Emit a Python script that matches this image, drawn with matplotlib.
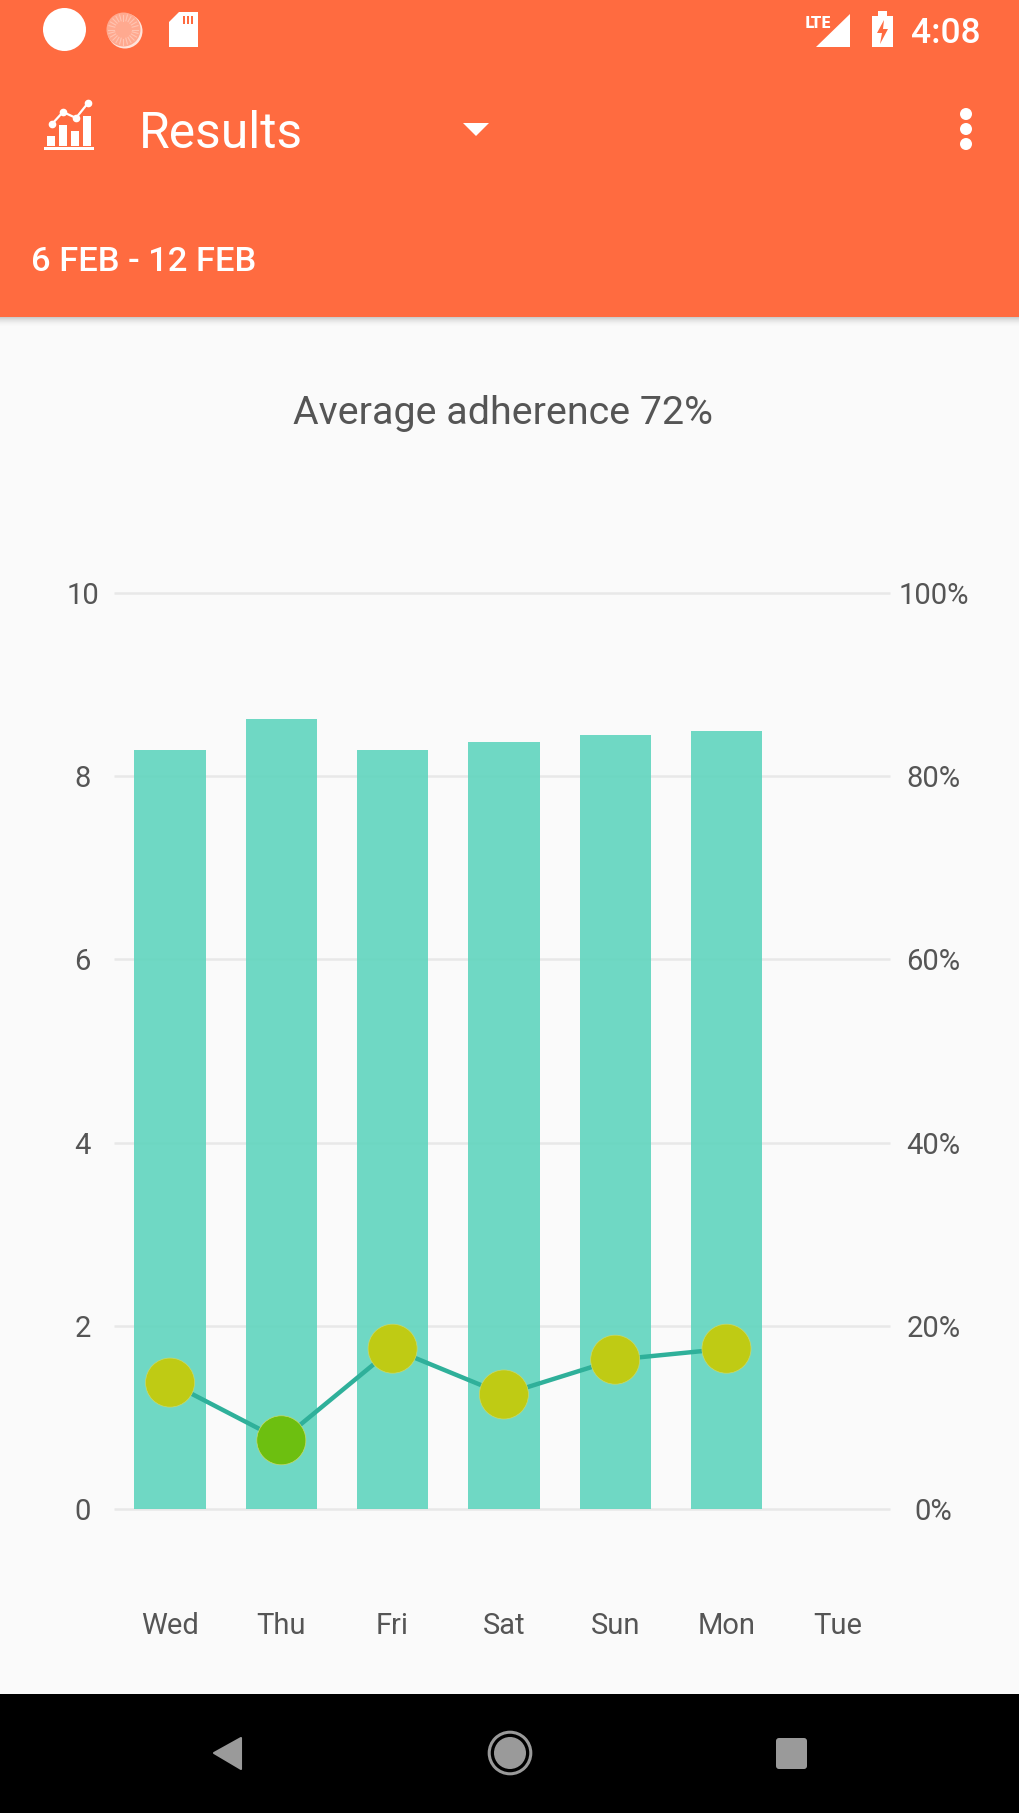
import math
import matplotlib
matplotlib.use("Agg")
import matplotlib.pyplot as plt
from matplotlib.patches import Rectangle, Circle, Polygon, FancyBboxPatch

plt.rcParams['font.family'] = ['Roboto', 'DejaVu Sans']

# data
days = ["Wed", "Thu", "Fri", "Sat", "Sun", "Mon", "Tue"]
bar_days = ["Wed", "Thu", "Fri", "Sat", "Sun", "Mon"]
bar_values = [8.29, 8.62, 8.29, 8.37, 8.45, 8.49]
line_values = [1.38, 0.75, 1.75, 1.25, 1.63, 1.75]
point_colors = ['#BFCB14', '#6DBF10', '#BFCB14', '#BFCB14', '#BFCB14', '#BFCB14']
left_ticks = [0, 2, 4, 6, 8, 10]
right_ticks = [0, 20, 40, 60, 80, 100]
right_labels = ["0%", "20%", "40%", "60%", "80%", "100%"]

W, H = 1020, 1813
ORANGE = '#FF6B40'
BG = '#FAFAFA'
TEXT = '#555555'

fig = plt.figure(figsize=(W / 100, H / 100), dpi=100, facecolor=BG)

# overlay in pixels for the phone chrome
ui = fig.add_axes([0, 0, 1, 1], zorder=5)
ui.set_xlim(0, W)
ui.set_ylim(H, 0)
ui.axis('off')
ui.patch.set_alpha(0)

# header shadow
for i in range(10):
    ui.add_patch(Rectangle((0, 317 + i), W, 1, color='#000000', alpha=0.18 * (1 - i / 10) ** 2, lw=0))
ui.add_patch(Rectangle((0, 0), W, 317, color=ORANGE, lw=0))
ui.add_patch(Rectangle((0, 1694), W, H - 1694, color='black', lw=0))

# status bar
ui.add_patch(Circle((64.5, 29.5), 21.5, color='white', lw=0))
ui.add_patch(Circle((125, 31), 17.5, color='#FFE3DA', lw=0))
ui.add_patch(Circle((123.5, 29.5), 17, color='#FFA98F', lw=0))
for k in range(24):
    a = k * math.pi / 12
    ui.plot([123.5 + 9 * math.cos(a), 123.5 + 15 * math.cos(a)],
            [29.5 + 9 * math.sin(a), 29.5 + 15 * math.sin(a)], color='#FFC4B2', lw=0.8)
ui.add_patch(Polygon([(169, 22), (179, 12), (198, 12), (198, 47), (169, 47)], color='white', lw=0))
for x in (183, 187, 191):
    ui.add_patch(Rectangle((x, 16), 2.4, 8, color=ORANGE, lw=0))
ui.add_patch(Polygon([(816, 47), (850, 14), (850, 47)], color='white', lw=0))
ui.text(818.5, 28, "LTE", color='white', fontsize=10.5, ha='center', va='baseline', weight='bold',
        family=['Liberation Sans Narrow', 'DejaVu Sans'])
ui.add_patch(Rectangle((872, 16), 21, 31, color='white', lw=0))
ui.add_patch(Rectangle((878, 11), 9, 6, color='white', lw=0))
ui.add_patch(Polygon([(884, 20), (877, 33), (882, 33), (880, 44), (888, 29), (883, 29)], color=ORANGE, lw=0))
ui.text(980.5, 43, "4:08", color='white', fontsize=25.4, ha='right', va='baseline', weight='medium')

# app bar
for x, top in ((47, 136), (59, 125), (71, 131), (83, 116)):
    ui.add_patch(Rectangle((x, top), 8, 146 - top, color='white', lw=0))
ui.add_patch(Rectangle((44, 147), 50, 3, color='white', lw=0))
ui.plot([52, 63, 76, 88], [124, 112, 118, 103], color='white', lw=1.6, marker='o', ms=4.5)
ui.text(139, 148, "Results", color='white', fontsize=35.8, ha='left', va='baseline')
ui.add_patch(Polygon([(463, 123), (489, 123), (476, 136)], color='white', lw=0))
for y in (114, 129, 144):
    ui.add_patch(Circle((966, y), 6, color='white', lw=0))
ui.text(31, 271, "6 FEB - 12 FEB", color='white', fontsize=24.8, ha='left', va='baseline', weight='medium')

# nav bar
NAV = '#9A9A9A'
ui.add_patch(Polygon([(214, 1753), (241, 1738), (241, 1769)], color=NAV, ec=NAV, lw=1.5, joinstyle='round'))
ui.add_patch(Circle((510, 1753), 20.8, fill=False, ec=NAV, lw=2.2))
ui.add_patch(Circle((510, 1753), 16, color=NAV, lw=0))
ui.add_patch(FancyBboxPatch((776, 1738), 31, 31, boxstyle="round,pad=0,rounding_size=3", color=NAV, lw=0))

ui.text(503, 424, "Average adherence 72%", color=TEXT, fontsize=28.4, ha='center', va='baseline')

# chart
ax = fig.add_axes([114.4 / W, (H - 1509) / H, 779 / W, 916 / H], zorder=2)
ax.set_facecolor('none')
ax.set_xlim(-0.5, 6.5)
ax.set_ylim(0, 10)
for s in ax.spines.values():
    s.set_visible(False)

ax.hlines(left_ticks, -0.5, 6.47, color='#E8E8E8', lw=1.8, zorder=1, clip_on=False)
ax.bar(bar_days + ["Tue"], bar_values + [0], width=0.64, color='#60D5BE', alpha=0.9, lw=0, zorder=2)
ax.plot(bar_days, line_values, color='#2FB09A', lw=3.2, zorder=3)
ax.scatter(bar_days, line_values, s=1246, c=point_colors, edgecolors='#C9D96A', linewidths=0.5, zorder=4)

ax.set_yticks(left_ticks)
ax.set_xticks(range(len(days)))
ax.set_xticklabels(days)
ax.tick_params(axis='x', length=0, pad=74, labelsize=21, labelcolor=TEXT)
ax.tick_params(axis='y', length=0, pad=23, labelsize=21, labelcolor=TEXT)
for lb in ax.get_yticklabels():
    lb.set_ha('center')
    lb.set_va('center_baseline')

ax2 = ax.twinx()
ax2.set_ylim(0, 100)
for s in ax2.spines.values():
    s.set_visible(False)
ax2.set_yticks(right_ticks)
ax2.set_yticklabels(right_labels)
ax2.tick_params(axis='y', length=0, pad=29, labelsize=21, labelcolor=TEXT)
for lb in ax2.get_yticklabels():
    lb.set_ha('center')
    lb.set_va('center_baseline')

fig.savefig("out.png", dpi=100, facecolor=BG)
